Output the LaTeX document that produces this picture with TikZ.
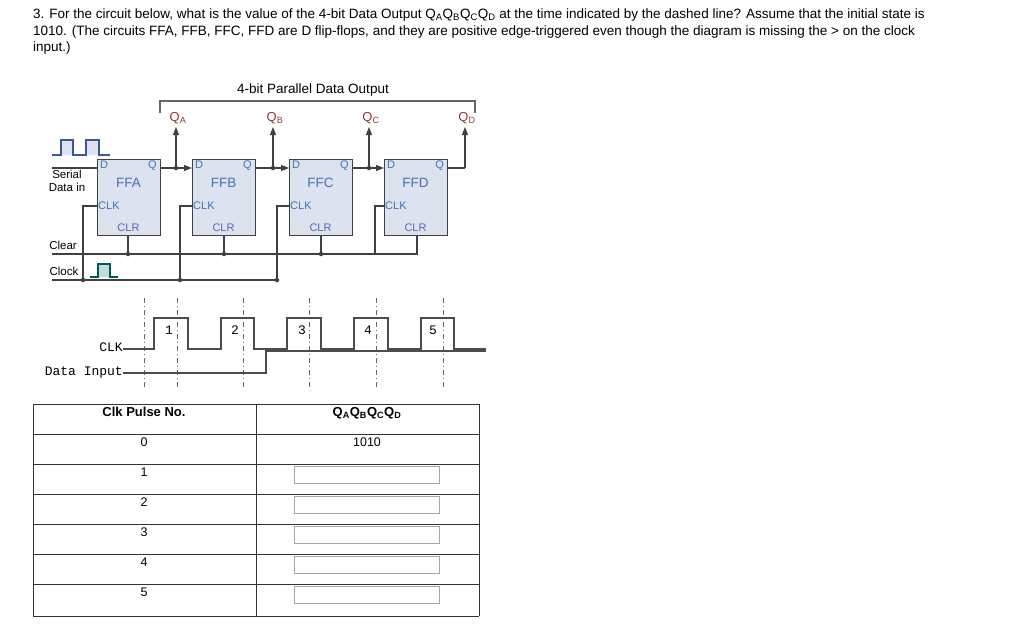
\documentclass[tikz,border=0pt]{standalone}
\usepackage{fontspec}
\setmainfont{Liberation Sans}
\newfontfamily\monof{Liberation Mono}
\usetikzlibrary{arrows.meta}
\definecolor{ffblue}{HTML}{4A6FB5}
\definecolor{fffill}{HTML}{DCE3EE}
\definecolor{qred}{HTML}{8B3A3A}
\definecolor{wire}{HTML}{404040}
\begin{document}
\begin{tikzpicture}[x=1pt,y=-1pt,
  txt/.style={inner sep=0pt,font=\fontsize{13.5}{15}\selectfont},
  sm/.style={inner sep=0pt,font=\fontsize{11.5}{13}\selectfont},
  ffbox/.style={draw=wire,line width=1.3pt,fill=fffill,minimum width=63pt,minimum height=76pt,anchor=north west,inner sep=0pt},
  pin/.style={inner sep=0pt,text=ffblue,font=\fontsize{11}{12}\selectfont},
  fflab/.style={inner sep=0pt,text=ffblue,font=\fontsize{13.5}{15}\selectfont},
  w/.style={draw=wire,line width=1.2pt},
  dot/.style={circle,fill=wire,inner sep=0pt,minimum size=4.5pt},
  ql/.style={inner sep=0pt,text=qred,font=\fontsize{13}{14}\selectfont},
  wave/.style={draw=black!70,line width=1.1pt},
  dsh/.style={draw=black!60,line width=0.8pt,dash pattern=on 5pt off 3pt on 1pt off 3pt},
  tmono/.style={inner sep=0pt,font=\monof\fontsize{13}{14}\selectfont},
  cell/.style={draw=black!80,line width=1pt},
  ans/.style={draw=black!35,line width=0.8pt},
  arr/.style={-{Triangle[length=8pt,width=6pt]}}]
\useasboundingbox (0,0) rectangle (1024,626);
\fill[white] (0,0) rectangle (1024,626);
% question text
\node[txt,anchor=west] (t1) at (33,15) {3. For the circuit below, what is the value of the 4-bit Data Output Q\textsubscript{A}Q\textsubscript{B}Q\textsubscript{C}Q\textsubscript{D} at the time indicated by the dashed line? Assume that the initial state is};
\node[txt,anchor=west] (t2) at (33,32) {1010. (The circuits FFA, FFB, FFC, FFD are D flip-flops, and they are positive edge-triggered even though the diagram is missing the > on the clock};
\node[txt,anchor=west] (t3) at (33,48) {input.)};
% circuit
\node[txt] (title) at (313,90) {4-bit Parallel Data Output};
\draw[w,draw=black!60] (160,113) -- (160,101) -- (475,101) -- (475,113);
\foreach \n/\x/\l in {A/97/FFA,B/192/FFB,C/289/FFC,D/384/FFD}{
  \node[ffbox] (ff\n) at (\x,159) {};
  \node[pin,anchor=north west] (d\n) at (\x+3,161) {D};
  \node[pin,anchor=north east] (q\n) at (\x+60,161) {Q};
  \node[fflab] (lab\n) at (\x+31.5,183) {\l};
  \node[pin,anchor=west] (ck\n) at (\x+1,206) {CLK};
  \node[pin] (cl\n) at (\x+31.5,228) {CLR};
}
% Q outputs
\foreach \n/\x in {A/176,B/273,C/369,D/465}{
  \coordinate (tap\n) at (\x,168);
  \coordinate (top\n) at (\x,127);
  \draw[w,arr] (tap\n) -- (top\n);
  \node[ql] (lq\n) at (\x+2,118) {Q\textsubscript{\n}};
}
\node[dot] at (tapA) {};\node[dot] at (tapB) {};\node[dot] at (tapC) {};
\draw[w,arr] (ffA.east |- tapA) -- (ffB.west |- tapA);
\draw[w,arr] (ffB.east |- tapA) -- (ffC.west |- tapA);
\draw[w,arr] (ffC.east |- tapA) -- (ffD.west |- tapA);
\draw[w] (ffD.east |- tapA) -- (tapD);
% serial in
\coordinate (sin) at (52,168);
\draw[w] (sin) -- (ffA.west |- sin);
\node[sm,align=center] (serial) at (67,181) {Serial\\Data in};
\draw[line width=1.2pt,draw=ffblue!80!black,fill=fffill] (52,155) -- (61,155) -- (61,140) -- (73,140) -- (73,155) -- (86,155) -- (86,140) -- (99,140) -- (99,155) -- (110,155);
% clear & clock
\node[sm] (clear) at (63,245) {Clear};
\node[sm] (clock) at (64,271) {Clock};
\coordinate (clrL) at (52,254);
\coordinate (clkL) at (52,280);
\draw[w] (clrL) -- (417,254) -- (ffD.south -| 417,0);
\draw[w] (clkL) -- (277,280);
\foreach \n/\x in {A/128,B/224,C/321}{
  \draw[w] (ff\n.south -| \x,0) -- (\x,254);
  \node[dot] at (\x,254) {};
}
\foreach \n/\x in {A/83,B/180,C/277}{
  \draw[w] (ff\n.west |- 0,206) -- (\x,206) -- (\x,280);
  \node[dot] at (\x,280) {};
}
\draw[w] (ffD.west |- 0,206) -- (375,206) -- (375,254);
\draw[line width=1.2pt,draw=teal!70!black,fill=teal!25] (90,277) -- (98,277) -- (98,264) -- (110,264) -- (110,277) -- (118,277);
% timing
\foreach \x/\i in {144/a,177/b,243/c,309/d,376/e,443/f}{
  \draw[dsh] (\x,298) -- (\x,387);
}
\node[tmono,anchor=east] (clkt) at (123,347) {CLK};
\node[tmono,anchor=east] (dit) at (123,373) {Data Input};
\draw[wave] (123,349) -- (154,349) -- (154,318) -- (188,318) -- (188,349) -- (221,349) -- (221,318) -- (254,318) -- (254,349) -- (287,349) -- (287,318) -- (321,318) -- (321,349) -- (354,349) -- (354,318) -- (388,318) -- (388,349) -- (421,349) -- (421,318) -- (454,318) -- (454,349) -- (486,349);
\draw[wave] (dit.east) -- (266,373) -- (266,351) -- (486,351);
\foreach \x/\n in {169/1,235/2,302/3,368/4,433/5}{
  \node[tmono] (p\n) at (\x,330) {\n};
}
% table
\foreach \y in {404,434,464,494,524,554,584,616}{ \draw[cell] (33,\y) -- (479,\y); }
\draw[cell] (33,404) -- (33,616);
\draw[cell] (256,404) -- (256,616);
\draw[cell] (479,404) -- (479,616);
\node[txt,font=\bfseries\fontsize{13}{14}\selectfont] (h1) at (144,412) {Clk Pulse No.};
\node[txt,font=\bfseries\fontsize{13}{14}\selectfont] (h2) at (367,413) {Q\textsubscript{A}Q\textsubscript{B}Q\textsubscript{C}Q\textsubscript{D}};
\node[sm,font=\fontsize{12.5}{13}\selectfont] (r0) at (144,442) {0};
\node[sm,font=\fontsize{12.5}{13}\selectfont] (v0) at (367,442) {1010};
\foreach \y/\n in {464/1,494/2,524/3,554/4,584/5}{
  \node[sm,font=\fontsize{12.5}{13}\selectfont] (r\n) at (144,\y+8) {\n};
  \draw[ans] (294,\y+2) rectangle (439,\y+19);
}
\end{tikzpicture}
\end{document}
